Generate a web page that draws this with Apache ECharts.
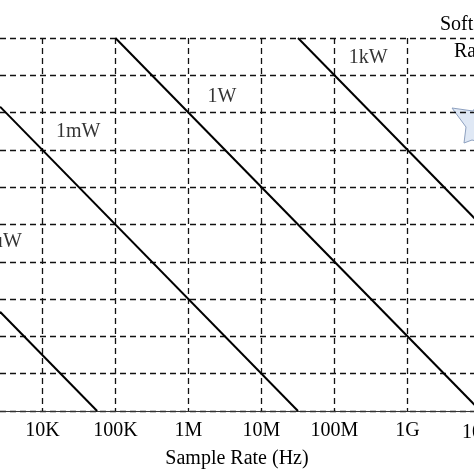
<!DOCTYPE html>
<html><head><meta charset="utf-8">
<script src="https://cdn.jsdelivr.net/npm/echarts@6/dist/echarts.min.js"></script>
<style>html,body{margin:0;padding:0;background:#fff}#c{width:474px;height:474px}</style>
</head><body><div id="c"></div>
<script>
// x = log10(sample rate), y = grid units
const tickValues = [4, 5, 6, 7, 8, 9];
const tickLabels = ['10K', '100K', '1M', '10M', '100M', '1G'];
const lineNames = ['1kW', '1W', '1mW', '1μW'];
const lineStart = [[7.5, 10], [5, 10], [3.42, 8.16], [3.42, 2.66]];
const lineEnd = [[10, 5], [10, 0], [7.5, 0], [4.75, 0]];
const labelPos = [[8.46, 9.47], [6.46, 8.43], [4.49, 7.49], [3.45, 4.53]];

const chart = echarts.init(document.getElementById('c'));
const font = '"Liberation Serif", "DejaVu Serif", serif';

const series = lineNames.map((n, i) => ({
  type: 'line',
  name: n,
  data: [lineStart[i], lineEnd[i]],
  symbol: 'none',
  clip: true,
  lineStyle: { color: '#000', width: 2 },
  silent: true
}));
series.push({
  type: 'scatter',
  symbolSize: 0,
  data: labelPos.map((p, i) => ({ value: p, name: lineNames[i] })),
  label: {
    show: true, position: 'inside', formatter: '{b}',
    fontFamily: font, fontSize: 20, color: '#000',
    backgroundColor: '#fff', padding: [1, 2]
  },
  z: 5
});

chart.setOption({
  animation: false,
  grid: { left: 0, right: 0, top: 38, bottom: 61 },
  xAxis: {
    type: 'value', min: 3.42, max: 9.91,
    name: 'Sample Rate (Hz)', nameLocation: 'middle', nameGap: 38,
    nameTextStyle: { fontFamily: font, fontSize: 20, color: '#000' },
    axisLine: { lineStyle: { color: '#333', width: 1 } },
    axisTick: { show: false, customValues: tickValues },
    axisLabel: {
      customValues: tickValues, margin: 10,
      fontFamily: font, fontSize: 20, color: '#000',
      formatter: v => tickLabels[tickValues.indexOf(Math.round(v))] || ''
    },
    splitLine: { show: true, lineStyle: { color: '#111', type: [6, 4], width: 1.3 } }
  },
  yAxis: {
    type: 'value', min: 0, max: 10, interval: 1,
    axisLine: { show: false }, axisTick: { show: false }, axisLabel: { show: false },
    splitLine: { lineStyle: { color: '#111', type: [6, 4], width: 1.3 } }
  },
  graphic: [
    { type: 'text', left: 440, top: 15, style: { text: 'Soft', font: '20px ' + font, fill: '#000' } },
    { type: 'text', left: 454, top: 42, style: { text: 'Ra', font: '20px ' + font, fill: '#000' } },
    { type: 'text', left: 462, top: 423, style: { text: '10G', font: '20px ' + font, fill: '#000' } },
    { type: 'polygon', shape: { points: [[452, 108], [473, 111], [480, 100], [480, 142], [472, 140], [464, 143], [466, 127]] },
      style: { fill: '#dfe8f5', stroke: '#8da0bf', lineWidth: 1 } }
  ],
  series: series
});
</script></body></html>
